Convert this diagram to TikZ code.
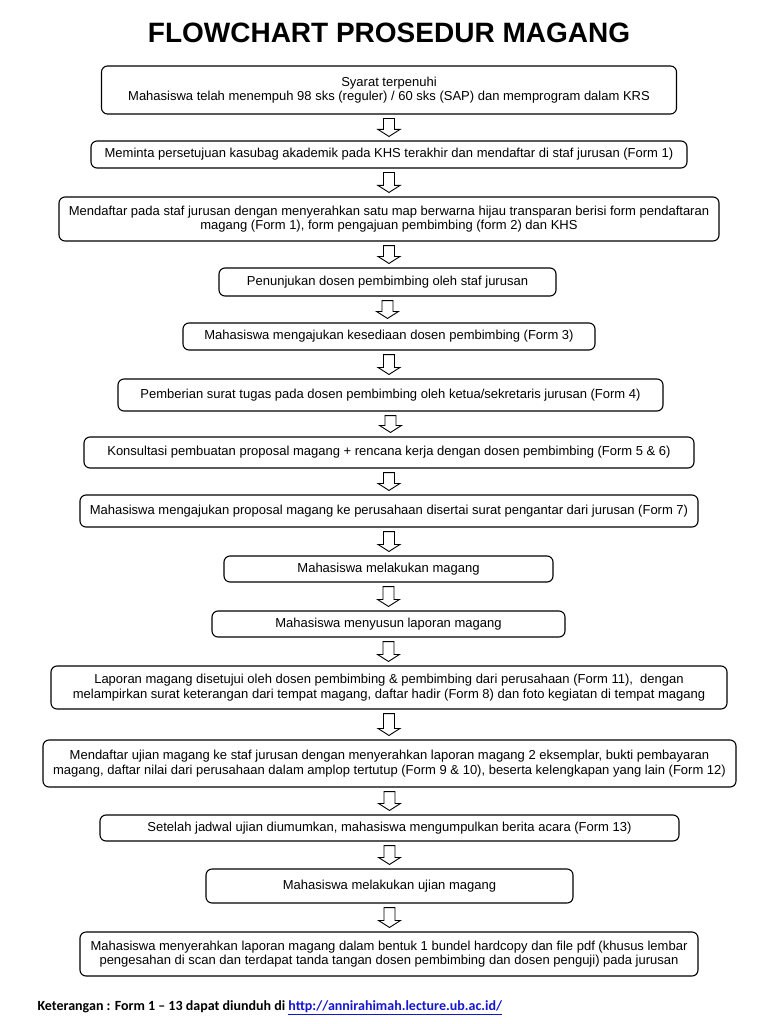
\documentclass[tikz,border=0pt]{standalone}
\usepackage{fontspec}
\setmainfont{Liberation Sans}
\newfontfamily\footfont{Carlito}
\usetikzlibrary{calc}
\definecolor{linkblue}{RGB}{20,20,210}
\tikzset{
  box/.style={draw, line width=1.1pt, rounded corners=6pt, align=center, inner sep=2pt, font=\fontsize{13}{14.5}\selectfont},
  blockarrow/.style={draw, line width=0.9pt, to path={
    let \p1=(\tikztostart), \p2=(\tikztotarget) in
    (\x1-5.5pt,\y1-4pt) -- (\x1-5.5pt,\y2+11pt) -- (\x1-11pt,\y2+11pt) -- (\x1,\y2+4pt)
    -- (\x1+11pt,\y2+11pt) -- (\x1+5.5pt,\y2+11pt) -- (\x1+5.5pt,\y1-4pt) -- cycle}}
}
\begin{document}
\begin{tikzpicture}[x=1pt,y=-1pt]
\useasboundingbox (0,0) rectangle (768,1024);
\node[font=\fontsize{28}{30}\selectfont\bfseries] (title) at (389,33) {FLOWCHART PROSEDUR MAGANG};

\node[box, minimum width=575, minimum height=48] (b1) at (389,90) {Syarat terpenuhi\\Mahasiswa telah menempuh 98 sks (reguler) / 60 sks (SAP) dan memprogram dalam KRS};
\node[box, minimum width=596, minimum height=27] (b2) at (389,154.5) {Meminta persetujuan kasubag akademik pada KHS terakhir dan mendaftar di staf jurusan (Form 1)};
\node[box, minimum width=660, minimum height=44] (b3) at (389,219) {Mendaftar pada staf jurusan dengan menyerahkan satu map berwarna hijau transparan berisi form pendaftaran\\magang (Form 1), form pengajuan pembimbing (form 2) dan KHS};
\node[box, minimum width=337, minimum height=28] (b4) at (387.5,282) {Penunjukan dosen pembimbing oleh staf jurusan};
\node[box, minimum width=412, minimum height=27] (b5) at (389,336.5) {Mahasiswa mengajukan kesediaan dosen pembimbing (Form 3)};
\node[box, minimum width=545, minimum height=32] (b6) at (390.5,395) {Pemberian surat tugas pada dosen pembimbing oleh ketua/sekretaris jurusan (Form 4)};
\node[box, minimum width=610, minimum height=31] (b7) at (389,452.5) {Konsultasi pembuatan proposal magang + rencana kerja dengan dosen pembimbing (Form 5 \& 6)};
\node[box, minimum width=618, minimum height=32] (b8) at (389,511) {Mahasiswa mengajukan proposal magang ke perusahaan disertai surat pengantar dari jurusan (Form 7)};
\node[box, minimum width=329, minimum height=26] (b9) at (388.5,569) {Mahasiswa melakukan magang};
\node[box, minimum width=353, minimum height=26] (b10) at (388.5,624) {Mahasiswa menyusun laporan magang};
\node[box, minimum width=676, minimum height=43] (b11) at (389,687.5) {Laporan magang disetujui oleh dosen pembimbing \& pembimbing dari perusahaan (Form 11), \ dengan\\melampirkan surat keterangan dari tempat magang, daftar hadir (Form 8) dan foto kegiatan di tempat magang};
\node[box, minimum width=693, minimum height=47] (b12) at (389.5,763.5) {Mendaftar ujian magang ke staf jurusan dengan menyerahkan laporan magang 2 eksemplar, bukti pembayaran\\magang, daftar nilai dari perusahaan dalam amplop tertutup (Form 9 \& 10), beserta kelengkapan yang lain (Form 12)};
\node[box, minimum width=579, minimum height=26] (b13) at (389.5,828) {Setelah jadwal ujian diumumkan, mahasiswa mengumpulkan berita acara (Form 13)};
\node[box, minimum width=367, minimum height=34] (b14) at (389.5,886) {Mahasiswa melakukan ujian magang};
\node[box, minimum width=618, minimum height=44] (b15) at (389,954) {Mahasiswa menyerahkan laporan magang dalam bentuk 1 bundel hardcopy dan file pdf (khusus lembar\\pengesahan di scan dan terdapat tanda tangan dosen pembimbing dan dosen penguji) pada jurusan};

\foreach \a/\b in {b1/b2,b2/b3,b3/b4,b4/b5,b5/b6,b6/b7,b7/b8,b8/b9,b9/b10,b10/b11,b11/b12,b12/b13,b13/b14,b14/b15}
  \draw[blockarrow] (\a.south) to (\b.north);

\node[anchor=west, font=\footfont\bfseries\fontsize{14}{16}\selectfont] (foot) at (34,1008) {Keterangan : Form 1 – 13 dapat diunduh di \textcolor{linkblue}{\underline{http://annirahimah.lecture.ub.ac.id/}}};
\end{tikzpicture}
\end{document}
